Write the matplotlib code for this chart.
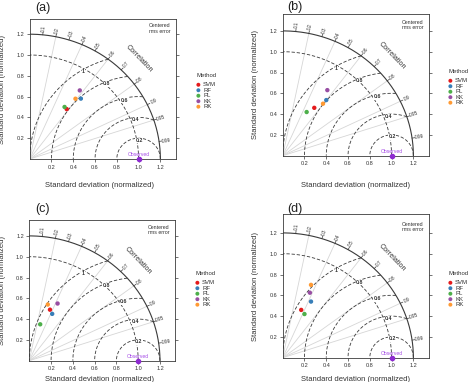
import matplotlib
matplotlib.use('Agg')
import matplotlib.pyplot as plt
import numpy as np

plt.rcParams['font.family'] = ['Liberation Sans', 'DejaVu Sans']

methods = ['SVM', 'RF', 'PL', 'KK', 'RK']
method_colors = ['#e41a1c', '#377eb8', '#4daf4a', '#984ea3', '#ff9a33']

# normalised standard deviation and correlation
sd_a = [0.588, 0.747, 0.594, 0.804, 0.716]
cor_a = [0.578, 0.629, 0.539, 0.572, 0.587]
sd_b = [0.544, 0.668, 0.474, 0.752, 0.622]
cor_b = [0.533, 0.599, 0.464, 0.545, 0.595]
sd_c = [0.526, 0.497, 0.364, 0.608, 0.566]
cor_c = [0.361, 0.423, 0.275, 0.427, 0.300]
sd_d = [0.490, 0.599, 0.465, 0.673, 0.747]
cor_d = [0.347, 0.434, 0.430, 0.371, 0.348]

obs_sd = 1.0
sd_ticks = [0.2, 0.4, 0.6, 0.8, 1.0, 1.2]
corr_labels = [0.1, 0.2, 0.3, 0.4, 0.5, 0.6, 0.7, 0.8, 0.9, 0.95, 0.99]
corr_rays = [0.2, 0.4, 0.6, 0.8, 0.9, 0.95]
rms_levels = [0.2, 0.4, 0.6, 0.8, 1.0]
rms_text = ['0.2', '0.4', '0.6', '0.8', '1']
rms_angles = [88, 94, 103, 112, 121]

W, H = 474, 382
DARK = '#3a3a3a'
DASH = (0, (4, 2.2))


def taylor(fig, left, top, height, sd, cor, tag, tag_xy, leg_x, leg_y):
    width = 146
    ax = fig.add_axes([left / W, 1 - (top + height) / H, width / W, height / H])
    ax.set_xlim(0, width / 108.9)
    ax.set_ylim(0, height / 104.0)
    rmax = 1.2
    th = np.linspace(0, np.pi / 2, 300)

    # correlation rays
    for c in corr_rays:
        a = np.arccos(c)
        ax.plot([0, rmax * np.cos(a)], [0, rmax * np.sin(a)], color='#d6d6d6', lw=0.6, zorder=1)

    # sd arcs
    ax.plot(rmax * np.cos(th), rmax * np.sin(th), color=DARK, lw=0.8, zorder=2)
    ax.plot(obs_sd * np.cos(th), obs_sd * np.sin(th), color=DARK, lw=0.6, ls=DASH, zorder=2)

    # centred rms arcs around the observed point
    for r, txt, ang in zip(rms_levels, rms_text, rms_angles):
        xe = (rmax ** 2 + obs_sd ** 2 - r ** 2) / (2 * obs_sd)
        p0 = np.arccos(np.clip((xe - obs_sd) / r, -1, 1))
        phi = np.linspace(p0, np.pi, 200)
        ax.plot(obs_sd + r * np.cos(phi), r * np.sin(phi), color=DARK, lw=0.6, ls=DASH, zorder=2)
        a = np.radians(ang)
        ax.text(obs_sd + (r - 0.02) * np.cos(a), (r - 0.02) * np.sin(a), txt, fontsize=3.8,
                fontweight='bold', color='#333333', ha='center', va='center', zorder=3,
                bbox=dict(facecolor='white', edgecolor='none', pad=0.2))

    # correlation ticks and labels
    for c in corr_labels:
        a = np.arccos(c)
        ax.plot([rmax * np.cos(a), 1.225 * np.cos(a)], [rmax * np.sin(a), 1.225 * np.sin(a)],
                color=DARK, lw=0.5, clip_on=False)
        ax.text(1.265 * np.cos(a), 1.265 * np.sin(a), f'{c:g}', rotation=np.degrees(a),
                rotation_mode='anchor', ha='center', va='center', fontsize=3.4, color='#333333')

    ax.text(1.39 * np.cos(np.radians(44)), 1.39 * np.sin(np.radians(44)), 'Correlation',
            rotation=-46, rotation_mode='anchor', ha='center', va='center', fontsize=5.2, color='#333333')
    ax.text(1.19, 1.255, 'Centered\nrms error', ha='center', va='center', fontsize=3.8,
            color='#333333', linespacing=1.1)

    # observed point
    ax.scatter([obs_sd], [0], s=9, color='#8e2bd1', zorder=5, clip_on=False)
    ax.text(obs_sd, 0.045, 'Observed', color='#a347e6', fontsize=3.6, ha='center', va='center')

    # model points
    sd = np.array(sd)
    cor = np.array(cor)
    xs = sd * cor
    ys = sd * np.sqrt(1 - cor ** 2)
    handles = []
    for i in range(len(methods)):
        h = ax.scatter(xs[i], ys[i], s=10, color=method_colors[i], zorder=6, label=methods[i],
                       edgecolors='none')
        handles.append(h)

    ax.set_xticks(sd_ticks)
    ax.set_yticks(sd_ticks)
    ax.set_xticklabels([f'{t:.1f}' for t in sd_ticks])
    ax.set_yticklabels([f'{t:.1f}' for t in sd_ticks])
    ax.tick_params(labelsize=4, length=2.5, width=0.5, color=DARK, labelcolor='#333333', pad=1.5,
                   right=True)
    for s in ax.spines.values():
        s.set_linewidth(0.6)
        s.set_color(DARK)
    ax.set_xlabel('Standard deviation (normalized)', fontsize=5.5, color='#333333')
    ax.set_ylabel('Standard deviation (normalized)', fontsize=5.5, color='#333333')
    ax.yaxis.set_label_coords(-0.16, 0.5)

    leg = ax.legend(handles=handles, title='Method', loc='upper left', frameon=False,
                    bbox_to_anchor=(leg_x / W, 1 - leg_y / H), bbox_transform=fig.transFigure,
                    fontsize=4.3, title_fontsize=4.3, handletextpad=0.4, labelspacing=0.05,
                    borderpad=0, handlelength=0.8, markerscale=0.9)
    leg.get_title().set_color('#333333')
    leg._legend_box.sep = 3
    for t in leg.get_texts():
        t.set_color('#333333')

    fig.text(tag_xy[0] / W, 1 - tag_xy[1] / H, tag, fontsize=9, ha='left', va='center',
             color='#222222')
    return ax


fig = plt.figure(figsize=(W / 100, H / 100), dpi=100)

ax_a = taylor(fig, 29.7, 19, 140, sd_a, cor_a, '(a)', (35, 8), 193, 70)
ax_a.xaxis.set_label_coords(0.48, -0.164)
ax_b = taylor(fig, 282.7, 14, 141.7, sd_b, cor_b, '(b)', (287, 7), 445, 66)
ax_b.xaxis.set_label_coords(0.5, -0.186)
ax_c = taylor(fig, 29.3, 220.3, 140.4, sd_c, cor_c, '(c)', (35, 209), 192, 268)
ax_c.xaxis.set_label_coords(0.48, -0.11)
ax_d = taylor(fig, 282.7, 214.3, 143.4, sd_d, cor_d, '(d)', (287, 209), 445, 268)
ax_d.xaxis.set_label_coords(0.5, -0.125)

fig.savefig('out.png', dpi=100)
